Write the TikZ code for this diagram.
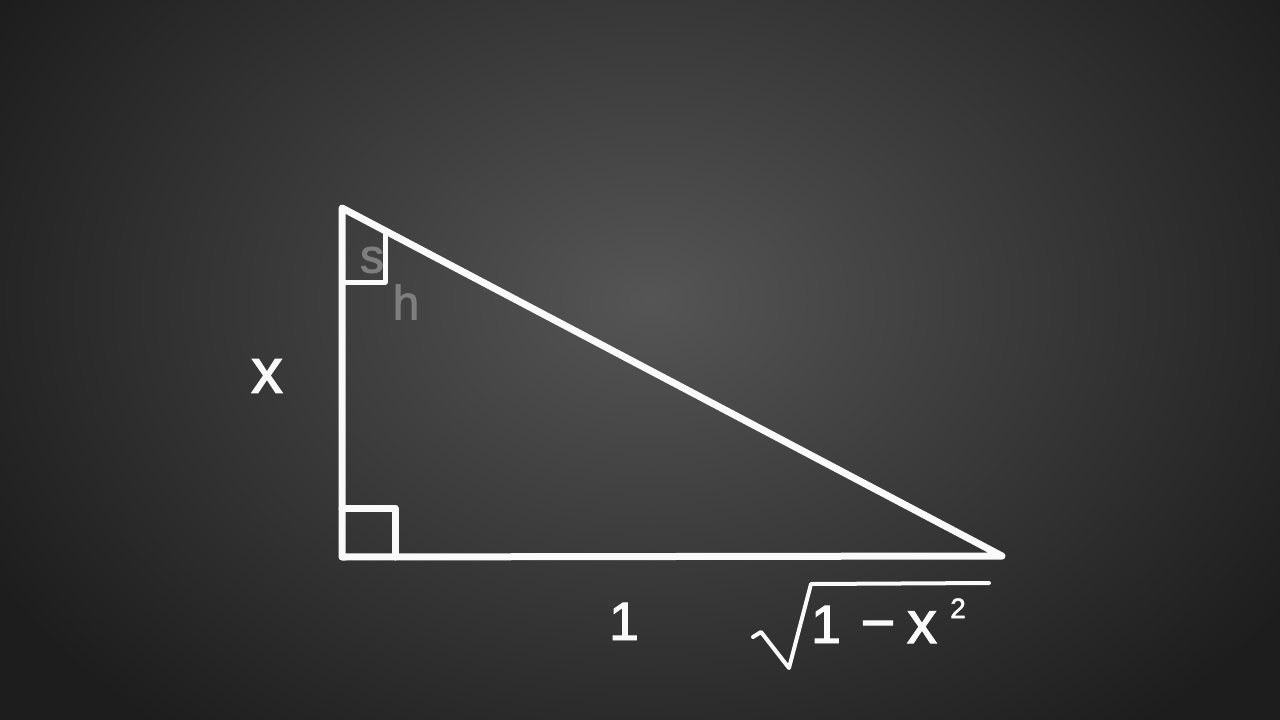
\documentclass[tikz,border=0pt]{standalone}
\usepackage{fontspec}
\setmainfont{Liberation Sans}
\newfontfamily\chalkfont{Liberation Sans}[FakeBold=1.8]
\definecolor{bgdark}{HTML}{1D1D1D}
\definecolor{bglight}{HTML}{555555}
\definecolor{chalk}{HTML}{FAFAFA}
\definecolor{faded}{HTML}{7E7E7E}
\begin{document}
\begin{tikzpicture}[x=1pt,y=-1pt,
  chalkline/.style={draw=chalk,line width=7pt,line cap=round,line join=round},
  fadeline/.style={draw=chalk,line width=5pt,line cap=round,line join=round},
  lbl/.style={text=chalk,font=\chalkfont\fontsize{54}{60}\selectfont,inner sep=0pt},
  ghost/.style={text=faded,font=\chalkfont\fontsize{48}{50}\selectfont,inner sep=0pt}]
\useasboundingbox (0,0) rectangle (1280,720);
\fill[bgdark] (0,0) rectangle (1280,720);
\shade[inner color=bglight,outer color=bgdark] (650,300) ellipse [x radius=760, y radius=560];
% faded s (partly hidden)
\begin{scope}
\clip (344,244) rectangle (383,279);
\node[ghost] (s) at (372,260) {s};
\end{scope}
\node[ghost] (h) at (406,302) {h};
% triangle
\coordinate (A) at (342,208);
\coordinate (B) at (342,557);
\coordinate (C) at (1002,556);
\draw[chalkline] (A) -- (B) -- (C) -- cycle;
% right angle at B
\coordinate (rb1) at (342,508);
\coordinate (rb2) at (395,508);
\coordinate (rb3) at (395,557);
\draw[chalkline] (rb1) -- (rb2) -- (rb3);
% small right-angle mark near top
\coordinate (ra1) at (385,230);
\coordinate (ra2) at (385,282);
\coordinate (ra3) at (343,282);
\draw[fadeline] (ra1) -- (ra2) -- (ra3);
% labels
\node[lbl,font=\chalkfont\fontsize{64}{70}\selectfont] (x) at (267,376) {x};
\node[lbl,anchor=base] (one) at (624,640) {1};
\node[lbl,anchor=base] (r1t) at (826,643) {1};
\node[lbl,anchor=base,font=\chalkfont\fontsize{60}{70}\selectfont] (rm) at (878,643) {−};
\node[lbl,anchor=base,font=\chalkfont\fontsize{60}{70}\selectfont] (rx) at (922,643) {x};
\node[lbl,anchor=base,font=\chalkfont\fontsize{28}{36}\selectfont] (sq) at (958,618) {2};
\coordinate (r0) at (753,637);
\coordinate (r1) at (761,632);
\coordinate (r2) at (789,668);
\coordinate (r3) at (811,584);
\coordinate (r4) at (989,583);
\draw[draw=chalk,line width=4pt,line join=round,line cap=round] (r0) -- (r1) -- (r2) -- (r3) -- (r4);
\end{tikzpicture}
\end{document}
